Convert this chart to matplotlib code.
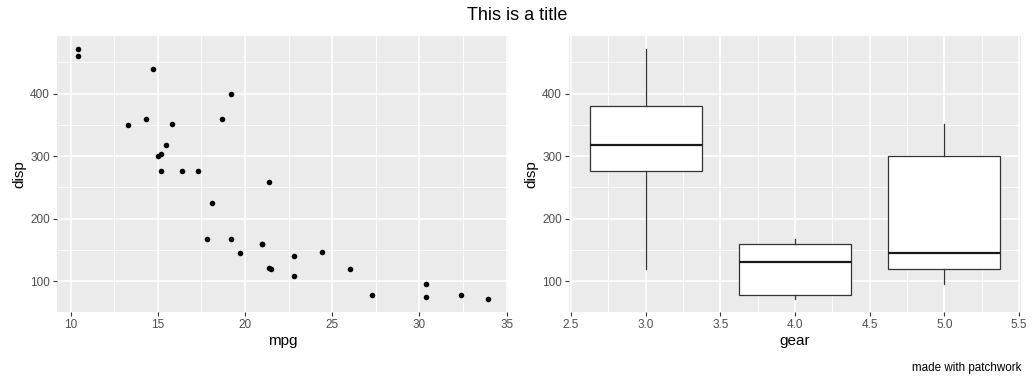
import numpy as np
import matplotlib.pyplot as plt
from matplotlib.ticker import MultipleLocator

# mtcars
mpg = [21.0, 21.0, 22.8, 21.4, 18.7, 18.1, 14.3, 24.4, 22.8, 19.2, 17.8, 16.4,
       17.3, 15.2, 10.4, 10.4, 14.7, 32.4, 30.4, 33.9, 21.5, 15.5, 15.2, 13.3,
       19.2, 27.3, 26.0, 30.4, 15.8, 19.7, 15.0, 21.4]
disp = [160, 160, 108, 258, 360, 225, 360, 146.7, 140.8, 167.6, 167.6, 275.8,
        275.8, 275.8, 472, 460, 440, 78.7, 75.7, 71.1, 120.1, 318, 304, 350,
        400, 79, 120.3, 95.1, 351, 145, 301, 121]
gear = [4, 4, 4, 3, 3, 3, 3, 4, 4, 4, 4, 3, 3, 3, 3, 3, 3, 4, 4, 4, 3, 3, 3, 3,
        3, 4, 5, 5, 5, 5, 5, 4]

BG = "#EBEBEB"
TICK_C = "#4D4D4D"

plt.rcParams["font.family"] = ["Liberation Sans", "DejaVu Sans"]

fig = plt.figure(figsize=(10.35, 3.79), dpi=100)
W, H = 1035, 379


def make_ax(x0, x1, y0, y1):
    ax = fig.add_axes([x0 / W, 1 - y1 / H, (x1 - x0) / W, (y1 - y0) / H])
    ax.set_facecolor(BG)
    for s in ax.spines.values():
        s.set_visible(False)
    ax.tick_params(length=3, width=0.8, color="#333333", labelcolor=TICK_C,
                   labelsize=8.5, pad=2)
    ax.grid(True, which="major", color="white", lw=1.1)
    ax.grid(True, which="minor", color="white", lw=0.55)
    ax.tick_params(which="minor", length=0)
    ax.set_axisbelow(True)
    return ax


def ggrange(lo, hi, pad=0.05):
    d = (hi - lo) * pad
    return lo - d, hi + d


ylim = ggrange(min(disp), max(disp))

# left panel: scatter
ax1 = make_ax(57, 508, 36, 312)
ax1.scatter(mpg, disp, s=16, color="black", zorder=3, linewidths=0)
ax1.set_xlim(*ggrange(min(mpg), max(mpg)))
ax1.set_ylim(*ylim)
ax1.xaxis.set_major_locator(MultipleLocator(5))
ax1.xaxis.set_minor_locator(MultipleLocator(2.5))
ax1.yaxis.set_major_locator(MultipleLocator(100))
ax1.yaxis.set_minor_locator(MultipleLocator(50))
ax1.set_xlabel("mpg", fontsize=11, labelpad=2)
ax1.set_ylabel("disp", fontsize=11, labelpad=3)

# right panel: boxplot by gear
ax2 = make_ax(569, 1021, 36, 312)
groups = sorted(set(gear))
data = [[d for d, g in zip(disp, gear) if g == k] for k in groups]
ax2.boxplot(data, positions=groups, widths=0.75, whis=1.5, patch_artist=True,
            manage_ticks=False,
            boxprops=dict(facecolor="white", edgecolor="#333333", lw=0.9),
            medianprops=dict(color="#1a1a1a", lw=1.6),
            whiskerprops=dict(color="#333333", lw=0.9),
            capprops=dict(visible=False),
            flierprops=dict(marker="o", markerfacecolor="black",
                            markeredgecolor="black", markersize=4))
ax2.set_xlim(*ggrange(min(groups) - 0.375, max(groups) + 0.375))
ax2.set_ylim(*ylim)
ax2.xaxis.set_major_locator(MultipleLocator(0.5))
ax2.xaxis.set_minor_locator(MultipleLocator(0.25))
ax2.yaxis.set_major_locator(MultipleLocator(100))
ax2.yaxis.set_minor_locator(MultipleLocator(50))
ax2.xaxis.set_major_formatter(plt.FuncFormatter(lambda v, p: f"{v:.1f}"))
ax2.set_xlabel("gear", fontsize=11, labelpad=2)
ax2.set_ylabel("disp", fontsize=11, labelpad=3)

fig.text(0.5, 1 - 15 / H, "This is a title", ha="center", va="center",
         fontsize=13)
fig.text(1 - 14 / W, 1 - 368 / H, "made with patchwork", ha="right",
         va="center", fontsize=8.4)

fig.savefig("out.png", dpi=100)
